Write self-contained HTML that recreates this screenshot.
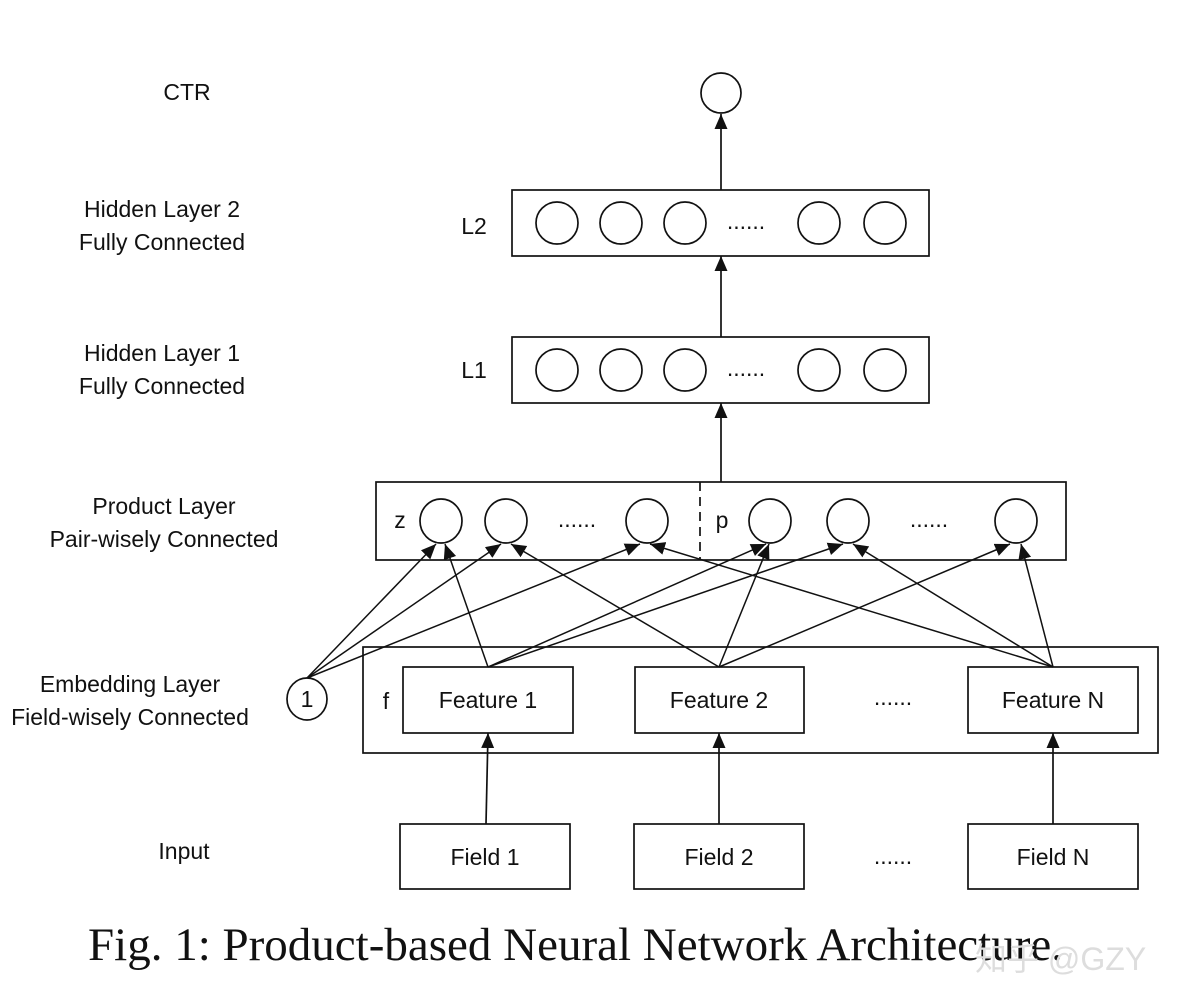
<!DOCTYPE html>
<html><head><meta charset="utf-8"><style>
body{margin:0;background:#fff}
svg{display:block}
text{font-family:"Liberation Sans",sans-serif;font-size:23px;fill:#111}
</style></head><body>
<svg width="1184" height="1006" viewBox="0 0 1184 1006" xmlns="http://www.w3.org/2000/svg">
<defs>
<marker id="b" markerWidth="16" markerHeight="14" refX="15" refY="6.5" orient="auto" markerUnits="userSpaceOnUse"><path d="M0,0 L15,6.5 L0,13 z" fill="#111"/></marker></defs>
<g stroke="#111" stroke-width="1.7" fill="none">
<circle cx="721" cy="93" r="20"/>
<rect x="512" y="190" width="417" height="66"/>
<rect x="512" y="337" width="417" height="66"/>
<g><circle cx="557" cy="223" r="21"/><circle cx="621" cy="223" r="21"/><circle cx="685" cy="223" r="21"/><circle cx="819" cy="223" r="21"/><circle cx="885" cy="223" r="21"/></g>
<g><circle cx="557" cy="370" r="21"/><circle cx="621" cy="370" r="21"/><circle cx="685" cy="370" r="21"/><circle cx="819" cy="370" r="21"/><circle cx="885" cy="370" r="21"/></g>
<rect x="376" y="482" width="690" height="78"/>
<line x1="700" y1="482" x2="700" y2="560" stroke-dasharray="9,6"/>
<ellipse cx="441" cy="521" rx="21" ry="22"/><ellipse cx="506" cy="521" rx="21" ry="22"/><ellipse cx="647" cy="521" rx="21" ry="22"/>
<ellipse cx="770" cy="521" rx="21" ry="22"/><ellipse cx="848" cy="521" rx="21" ry="22"/><ellipse cx="1016" cy="521" rx="21" ry="22"/>
<rect x="363" y="647" width="795" height="106"/>
<rect x="403" y="667" width="170" height="66"/>
<rect x="635" y="667" width="169" height="66"/>
<rect x="968" y="667" width="170" height="66"/>
<ellipse cx="307" cy="699" rx="20" ry="21"/>
<rect x="400" y="824" width="170" height="65"/>
<rect x="634" y="824" width="170" height="65"/>
<rect x="968" y="824" width="170" height="65"/>
</g>
<g stroke="#111" stroke-width="1.7" marker-end="url(#b)">
<line x1="721" y1="190" x2="721" y2="114"/>
<line x1="721" y1="337" x2="721" y2="256"/>
<line x1="721" y1="482" x2="721" y2="403"/>
<line x1="486" y1="824" x2="488" y2="733"/>
<line x1="719" y1="824" x2="719" y2="733"/>
<line x1="1053" y1="824" x2="1053" y2="733"/>
</g>
<g stroke="#111" stroke-width="1.5" marker-end="url(#b)">
<line x1="307" y1="678" x2="436" y2="544"/>
<line x1="307" y1="678" x2="501" y2="544"/>
<line x1="307" y1="678" x2="640" y2="544"/>
<line x1="488" y1="667" x2="445" y2="544"/>
<line x1="488" y1="667" x2="766" y2="544"/>
<line x1="488" y1="667" x2="843" y2="544"/>
<line x1="719" y1="667" x2="511" y2="544"/>
<line x1="719" y1="667" x2="769" y2="544"/>
<line x1="719" y1="667" x2="1010" y2="544"/>
<line x1="1053" y1="667" x2="650" y2="544"/>
<line x1="1053" y1="667" x2="853" y2="544"/>
<line x1="1053" y1="667" x2="1021" y2="544"/>
</g>
<g text-anchor="middle">
<text x="187" y="100">CTR</text>
<text x="162" y="217">Hidden Layer 2</text>
<text x="162" y="250">Fully Connected</text>
<text x="162" y="361">Hidden Layer 1</text>
<text x="162" y="394">Fully Connected</text>
<text x="164" y="514">Product Layer</text>
<text x="164" y="547">Pair-wisely Connected</text>
<text x="130" y="692">Embedding Layer</text>
<text x="130" y="725">Field-wisely Connected</text>
<text x="184" y="859">Input</text>
<text x="474" y="234">L2</text>
<text x="474" y="378">L1</text>
<text x="746" y="229">......</text>
<text x="746" y="376">......</text>
<text x="577" y="527">......</text>
<text x="929" y="527">......</text>
<text x="893" y="705">......</text>
<text x="893" y="864">......</text>
<text x="400" y="528">z</text>
<text x="722" y="528">p</text>
<text x="386" y="709">f</text>
<text x="307" y="707">1</text>
<text x="488" y="708">Feature 1</text>
<text x="719" y="708">Feature 2</text>
<text x="1053" y="708">Feature N</text>
<text x="485" y="865">Field 1</text>
<text x="719" y="865">Field 2</text>
<text x="1053" y="865">Field N</text>
</g>
<text x="88" y="960" style="font-family:'Liberation Serif',serif;font-size:47px" textLength="975" lengthAdjust="spacingAndGlyphs">Fig. 1: Product-based Neural Network Architecture.</text>
<text x="975" y="970" style="font-family:'Liberation Sans','Noto Sans CJK SC',sans-serif;font-size:32px;fill:#ddd">知乎 @GZY</text>
</svg>
</body></html>
